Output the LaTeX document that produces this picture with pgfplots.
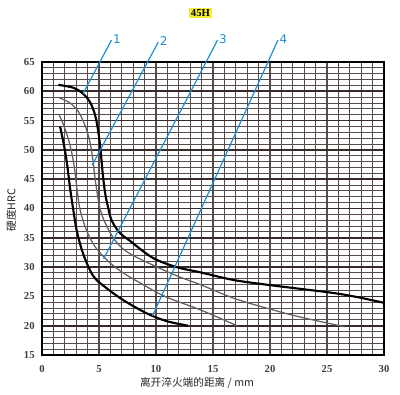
\documentclass[border=0pt]{standalone}
\usepackage{fontspec}
\setmainfont{Liberation Serif}
\newfontfamily\cjk{Noto Sans CJK SC}
\newfontfamily\lab{DejaVu Sans}
\usepackage{pgfplots}
\pgfplotsset{compat=1.18}
\definecolor{gridc}{HTML}{3A2A2A}
\definecolor{arrowc}{HTML}{1E8FD5}
\definecolor{hl}{HTML}{F5EE30}
\begin{document}
\begin{tikzpicture}[x=1pt,y=1pt]
\begin{axis}[
  scale only axis,
  width=256.5pt, height=219.75pt,
  xmin=0, xmax=30, ymin=15, ymax=65,
  xtick={0,5,...,30}, ytick={15,20,...,65},
  minor x tick num=4, minor y tick num=4,
  grid=both,
  major x grid style={gridc!85, line width=0.8pt},
  minor x grid style={gridc!85, line width=0.8pt},
  major y grid style={gridc, line width=1.3pt},
  minor y grid style={gridc!85, line width=0.75pt},
  major tick length=0pt, minor tick length=0pt,
  axis line style={black, line width=1.2pt},
  tick label style={font=\footnotesize\bfseries, text=black!75},
  /pgf/number format/assume math mode=true,
  xticklabel style={yshift=-4pt},
  yticklabel style={xshift=-2pt},
  clip=false,
]
% curve 1
\addplot[black, line width=1.6pt, smooth, tension=0.55] coordinates {
 (1.43,61.1) (2.75,60.6) (3.6,59.6) (4.2,58.2) (4.65,56) (4.94,53.1) (5.15,49.7)
 (5.35,45.5) (5.55,42.5) (5.75,40.6) (6.1,38.0) (6.84,35.8) (7.7,34.5) (9.7,31.6)
 (11.8,30.0) (13.9,29.1) (16.8,27.8) (19.7,27.0) (22.6,26.3) (25.5,25.6) (27.6,24.9) (30,23.9)};
% curve 2
\addplot[black!62, line width=0.95pt, smooth, tension=0.55] coordinates {
 (1.5,58.9) (2.46,58) (3.2,56.5) (3.77,54.2) (4.2,51.4) (4.45,48.5) (4.7,44.5)
 (5.1,39.9) (5.7,36.9) (6.55,34.2) (7.7,32.3) (10.1,30.0) (12.1,28.3) (13.9,27.0)
 (16.8,24.7) (19.7,23.0) (22.6,21.5) (26.6,19.8)};
% curve 3
\addplot[black!62, line width=0.95pt, smooth, tension=0.55] coordinates {
 (1.5,56) (2.0,53.7) (2.46,50.8) (2.8,47.5) (3.04,43.8) (3.33,39.9) (3.9,36.3)
 (4.65,33.5) (5.7,31.2) (6.9,29.3) (8.6,27.3) (10.9,24.9) (13.9,22.7) (17.1,20.0)};
% curve 4
\addplot[black, line width=1.6pt, smooth, tension=0.55] coordinates {
 (1.58,54) (1.87,51.4) (2.17,48) (2.46,43.5) (2.75,39.7) (3.04,36.3) (3.5,32.9)
 (4.06,30.1) (4.6,28.2) (5.4,26.8) (7.1,24.4) (9.2,22.1) (10.9,20.8) (12.8,20.0)};
% leader lines
\draw[arrowc, line width=0.9pt] (axis cs:6.1,68.75) -- (axis cs:3.6,59.6);
\draw[arrowc, line width=0.9pt] (axis cs:10.2,68.4) -- (axis cs:4.4,47.4);
\draw[arrowc, line width=0.9pt] (axis cs:15.4,68.75) -- (axis cs:5.4,31.4);
\draw[arrowc, line width=0.9pt] (axis cs:20.7,68.75) -- (axis cs:9.7,21.7);
\node[arrowc, font=\lab\small, anchor=west, inner sep=1pt] at (axis cs:6.1,68.9) {1};
\node[arrowc, font=\lab\small, anchor=west, inner sep=1pt] at (axis cs:10.2,68.5) {2};
\node[arrowc, font=\lab\small, anchor=west, inner sep=1pt] at (axis cs:15.4,68.9) {3};
\node[arrowc, font=\lab\small, anchor=west, inner sep=1pt] at (axis cs:20.7,68.9) {4};
% title
\node[fill=hl, font=\footnotesize\bfseries, inner sep=1.2pt] at (axis cs:13.9,73.4) {45H};
% axis labels
\node[font=\cjk\footnotesize, text=black!85] at (axis cs:13.6,10.2) {离开淬火端的距离 / mm};
\node[font=\cjk\footnotesize, text=black!85, rotate=90] at (axis cs:-2.7,39.7) {硬度HRC};
\end{axis}
\path (-31.5pt,-30pt) rectangle (268.5pt,266.25pt);
\end{tikzpicture}
\end{document}
